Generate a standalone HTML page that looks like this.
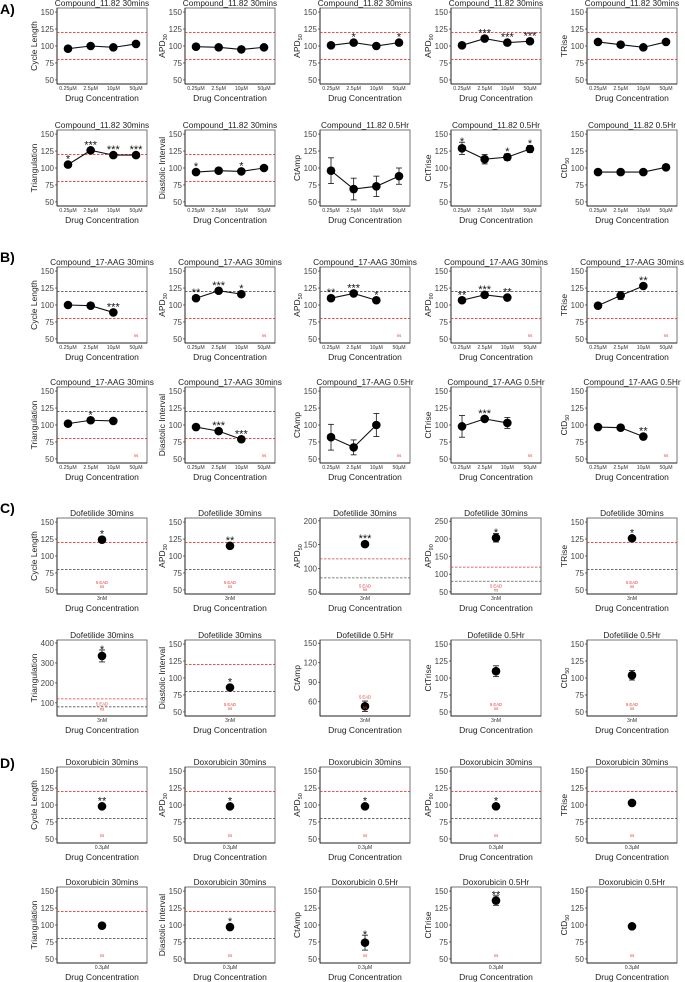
<!DOCTYPE html>
<html><head><meta charset="utf-8">
<style>
html,body{margin:0;padding:0;background:#fff;}
svg{display:block;font-family:"Liberation Sans",Arial,sans-serif;}
</style></head>
<body>
<svg id="fig" width="685" height="982" viewBox="0 0 685 982" xmlns="http://www.w3.org/2000/svg"></svg>
<script>
// ---------- data ----------
const metricNames = ["Cycle Length","APD30","APD50","APD90","TRise","Triangulation","Diastolic Interval","CtAmp","CtTrise","CtD50"];
const sectionLabels = ["A)","B)","C)","D)"];
const sectionDrugs = ["Compound_11.82","Compound_17-AAG","Dofetilide","Doxorubicin"];
const catsA = ["0.25\u00b5M","2.5\u00b5M","10\u00b5M","50\u00b5M"];
const catsB = ["0.25\u00b5M","2.5\u00b5M","10\u00b5M","50\u00b5M"];
const catsC = ["3nM"];
const catsD = ["0.3\u00b5M"];

const valuesA = [[96,100,98,103],[99,98,95,98],[101,105,100,105],[101,111,105,107],[106,102,98,106],
                 [105,126,119,119],[94,96,95,100],[96,69,73,88],[129,113,116,128],[94,94,94,101]];
const errorsA = [[1,1,1,1],[1,1,1,1],[1,1,1,1],[1,1,1,1],[2,3,2,1],[2,2,2,2],[2,3,3,1],[19,16,15,12],[9,7,5,5],[1,1,1,1]];
const sigA = [["","","",""],["","","",""],["","*","","*"],["","***","***","***"],["","","",""],
              ["*","***","***","***"],["*","","*",""],["","","",""],["*","","*","*"],["","","",""]];

const valuesB = [[100,99,89],[110,121,116],[110,117,107],[107,115,111],[99,114,128],
                 [102,107,106],[97,91,79],[82,67,100],[98,109,103],[97,96,83]];
const errorsB = [[1,1,1],[2,2,3],[2,2,2],[2,2,2],[2,6,3],[1,2,1],[1,2,2],[19,11,17],[16,3,8],[1,1,1]];
const sigB = [["","","***"],["**","***","*"],["**","***","*"],["**","***","**"],["","","**"],
              ["","*",""],["","***","***"],["","",""],["","***",""],["","","**"]];

const valuesC = [[124],[115],[151],[203],[126],[335],[86],[53],[110],[104]];
const errorsC = [[3],[2],[2],[12],[4],[30],[2],[8],[8],[7]];
const sigC = [["*"],["**"],["***"],["*"],["*"],["*"],["*"],[""],[""],[""]];

const valuesD = [[98],[98],[98],[98],[103],[99],[97],[74],[136],[98]];
const errorsD = [[1],[1],[1],[1],[2],[2],[2],[11],[7],[1]];
const sigD = [["**"],["*"],["*"],["*"],[""],[""],["*"],["*"],["**"],[""]];

const defaultTicks = [50,75,100,125,150];
const ticksC3 = [50,100,150,200];
const ticksC4 = [50,100,150,200,250];
const ticksC6 = [100,200,300,400];
const ticksC8 = [60,90,120,150];

// ---------- layout ----------
const NS="http://www.w3.org/2000/svg";
const svg=document.getElementById('fig');
const colLeft=[57,185,320,451,587];
const PW=90, PH=76;
const rowTops=[[8,130],[267,387],[518,640],[767,887]];
const labelY=[14,262,513,768];

function mk(tag,attrs,parent){const e=document.createElementNS(NS,tag);for(const k in attrs)e.setAttribute(k,attrs[k]);(parent||svg).appendChild(e);return e;}

function yLabel(g,name,x,y){
  const t=mk('text',{x:x,y:y,'font-size':8.5,fill:'#222','text-anchor':'middle',transform:`rotate(-90 ${x} ${y})`},g);
  
  
  const m=name.match(/^(APD|CtD)(\d+)$/);
  if(m){t.appendChild(document.createTextNode(m[1]));const s=mk('tspan',{'font-size':5.5,dy:2},t);s.textContent=m[2];}
  else t.textContent=name;
}

function panel(sec,idx,cats,vals,errs,sigs,opt){
  const row=Math.floor(idx/5),col=idx%5;
  const L=colLeft[col],T=rowTops[sec][row];
  const g=mk('g',{});
  
  
  const dom=opt.domain||[44,156];
  const ticks=opt.ticks||defaultTicks;
  const y=v=>T+PH-(v-dom[0])/(dom[1]-dom[0])*PH;
  const n=opt.nCats||cats.length;
  const x=i=> n===1? L+PW/2 : L+11+i*(PW-22)/(n-1);
  const frame=mk('rect',{x:L,y:T,width:PW,height:PH,fill:'none',stroke:'#666','stroke-width':0.9},g);
  
  
  mk('line',{x1:L,y1:T,x2:L,y2:T+PH,stroke:'#222','stroke-width':1},g);
  mk('line',{x1:L,y1:T+PH,x2:L+PW,y2:T+PH,stroke:'#222','stroke-width':1},g);
  if(idx<7){
    const cols=opt.refCols||['#e53935','#e53935'];
    [120,80].forEach((v,k)=>{
      const l=mk('line',{x1:L,x2:L+PW,y1:y(v),y2:y(v),stroke:cols[k],'stroke-width':0.8,'stroke-dasharray':'2.5,1.5'},g);
      
      
    });
  }
  ticks.forEach(tv=>{
    mk('line',{x1:L-2,x2:L,y1:y(tv),y2:y(tv),stroke:'#333','stroke-width':0.7},g);
    const t=mk('text',{x:L-3,y:y(tv)+3,'font-size':8,fill:'#444','text-anchor':'end'},g);
    
    
    t.textContent=tv;
  });
  const xl=opt.xLabels||cats;
  xl.forEach((c,i)=>{
    const t=mk('text',{x:x(i),y:T+PH+6,'font-size':5.2,fill:'#333','text-anchor':'middle'},g);
    
    
    t.textContent=c;
  });
  const xt=mk('text',{x:L+PW/2,y:T+PH+17,'font-size':8.5,fill:'#222','text-anchor':'middle'},g);
  
  
  xt.textContent='Drug Concentration';
  const tt=mk('text',{x:L+PW/2,y:T-2,'font-size':8.3,fill:'#222','text-anchor':'middle'},g);
  
  
  tt.textContent=sectionDrugs[sec]+(idx>=7?' 0.5Hr':' 30mins');
  yLabel(g,metricNames[idx],L-20,T+PH/2);
  if(vals.length>1){
    const pts=vals.map((v,i)=>x(i)+','+y(v)).join(' ');
    const pl=mk('polyline',{points:pts,fill:'none',stroke:'#111','stroke-width':1.1},g);
    
    
  }
  vals.forEach((v,i)=>{
    const e=errs[i], cx=x(i);
    mk('line',{x1:cx,x2:cx,y1:y(v+e),y2:y(v-e),stroke:'#111','stroke-width':0.8},g);
    mk('line',{x1:cx-3,x2:cx+3,y1:y(v+e),y2:y(v+e),stroke:'#111','stroke-width':0.8},g);
    mk('line',{x1:cx-3,x2:cx+3,y1:y(v-e),y2:y(v-e),stroke:'#111','stroke-width':0.8},g);
    const c=mk('circle',{cx:cx,cy:y(v),r:4.3,fill:'#000'},g);
    
    
    if(sigs[i]){
      const top=Math.min(y(v+e),y(v)-5);
      const s=mk('text',{x:cx,y:top+3,'font-size':11,fill:'#111','text-anchor':'middle'},g);
      
      
      s.textContent=sigs[i];
    }
  });
  if(opt.note){
    opt.note.forEach(nt=>{
      const t=mk('text',{x:nt.i===undefined?L+PW/2:x(nt.i),y:y(nt.v)+1.5,'font-size':4.2,fill:'#e53935','text-anchor':'middle'},g);
      
      
      t.textContent=nt.t;
    });
  }
}

sectionLabels.forEach((s,i)=>{
  const t=mk('text',{x:0,y:labelY[i],'font-size':14,'font-weight':'bold',fill:'#000'});
  
  
  t.textContent=s;
});

for(let i=0;i<10;i++){
  panel(0,i,catsA,valuesA[i],errorsA[i],sigA[i],{});
  panel(1,i,catsB,valuesB[i],errorsB[i],sigB[i],{nCats:4,xLabels:catsB,refCols:['#555','#e53935'],note:[{i:3,v:55,t:'ns'}]});
  const optC={refCols:['#e53935','#555'],note:[{v:61,t:'5 EAD'},{v:55,t:'ns'}]};
  if(i===2){optC.domain=[46,206];optC.ticks=ticksC3;optC.note=[{v:63,t:'5 EAD'},{v:55,t:'ns'}];}
  if(i===3){optC.domain=[44,259];optC.ticks=ticksC4;optC.note=[{v:66,t:'5 EAD'},{v:55,t:'ns'}];}
  if(i===5){optC.domain=[34,415];optC.ticks=ticksC6;optC.note=[{v:95,t:'5 EAD'},{v:68,t:'ns'}];}
  if(i===7){optC.domain=[38,155];optC.ticks=ticksC8;optC.note=[{v:67,t:'5 EAD'},{v:51,t:'ns'}];}
  panel(2,i,catsC,valuesC[i],errorsC[i],sigC[i],optC);
  panel(3,i,catsD,valuesD[i],errorsD[i],sigD[i],{refCols:['#e53935','#555'],note:[{v:55,t:'ns'}]});
}
</script>
</body></html>
